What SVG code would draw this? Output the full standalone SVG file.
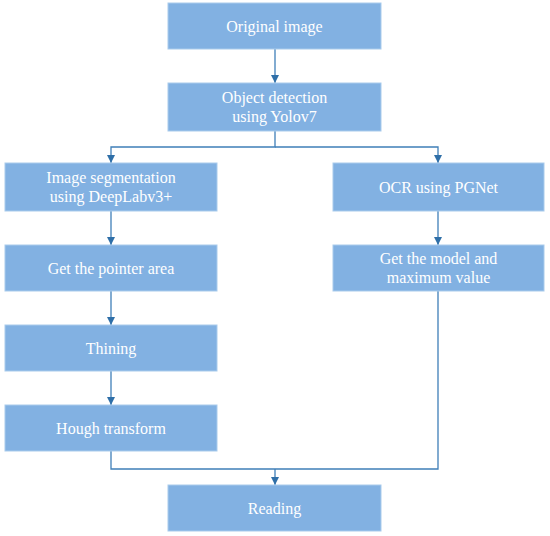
<svg xmlns="http://www.w3.org/2000/svg" width="550" height="536" viewBox="0 0 550 536">
<style>
.box{fill:#82B1E2;stroke:#A9CBEC;stroke-width:1}
.t{font-size:16px;fill:#ffffff;text-anchor:middle}
.c{fill:none;stroke:#3F7FB8;stroke-width:1.3}
</style>
<defs>
<marker id="ah" viewBox="0 0 8 8" refX="8" refY="4" markerWidth="8" markerHeight="8" markerUnits="userSpaceOnUse" orient="auto">
<path d="M0,0 L8,4 L0,8 Z" fill="#2F6FA8"/>
</marker>
</defs>
<rect width="550" height="536" fill="#ffffff"/>
<g id="connectors">
<path class="c" d="M275,49 V83" marker-end="url(#ah)"/>
<path class="c" d="M275,131 V147 H111 V163" marker-end="url(#ah)"/>
<path class="c" d="M275,147 H438 V163" marker-end="url(#ah)"/>
<path class="c" d="M111,211 V245" marker-end="url(#ah)"/>
<path class="c" d="M438,211 V245" marker-end="url(#ah)"/>
<path class="c" d="M111,291 V325" marker-end="url(#ah)"/>
<path class="c" d="M111,371 V405" marker-end="url(#ah)"/>
<path class="c" d="M111,451 V469 H438 V291"/>
<path class="c" d="M275,469 V485" marker-end="url(#ah)"/>
</g>
<g font-family="'Liberation Serif', 'Times New Roman', 'DejaVu Serif', serif">
<g id="n1"><rect class="box" x="168" y="3" width="213" height="46"/><text class="t" x="274.5" y="31.5">Original image</text></g>
<g id="n2"><rect class="box" x="168" y="83" width="213" height="48"/><text class="t" x="274.5" y="103">Object detection</text><text class="t" x="274.5" y="122">using Yolov7</text></g>
<g id="n3"><rect class="box" x="5" y="163" width="212" height="48"/><text class="t" x="111" y="183">Image segmentation</text><text class="t" x="111" y="202">using DeepLabv3+</text></g>
<g id="n4"><rect class="box" x="333" y="163" width="211" height="48"/><text class="t" x="438.5" y="192.5">OCR using PGNet</text></g>
<g id="n5"><rect class="box" x="5" y="245" width="212" height="46"/><text class="t" x="111" y="273.5">Get the pointer area</text></g>
<g id="n6"><rect class="box" x="333" y="245" width="211" height="46"/><text class="t" x="438.5" y="264">Get the model and</text><text class="t" x="438.5" y="283">maximum value</text></g>
<g id="n7"><rect class="box" x="5" y="325" width="212" height="46"/><text class="t" x="111" y="353.5">Thining</text></g>
<g id="n8"><rect class="box" x="5" y="405" width="212" height="46"/><text class="t" x="111" y="433.5">Hough transform</text></g>
<g id="n9"><rect class="box" x="168" y="485" width="213" height="46"/><text class="t" x="274.5" y="513.5">Reading</text></g>
</g>
</svg>
